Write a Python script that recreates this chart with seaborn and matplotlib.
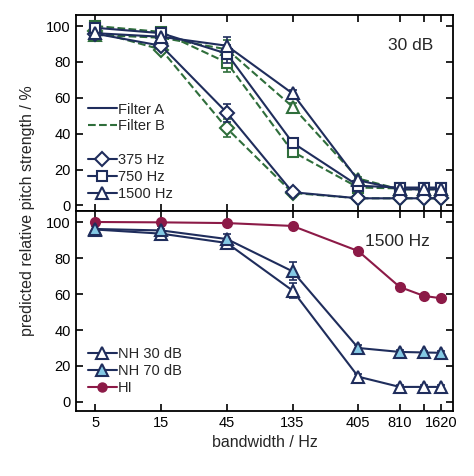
import matplotlib
matplotlib.use('Agg')
import matplotlib.pyplot as plt
from matplotlib.lines import Line2D
from matplotlib.ticker import FixedLocator, NullLocator
import pandas as pd
import seaborn as sns

bandwidth = [5, 15, 45, 135, 405, 810, 1215, 1620]
tick_labels = ['5', '15', '45', '135', '405', '810', '', '1620']

# top panel: 30 dB, filter A / filter B
f375_a = [95.7, 89.0, 51.7, 7.4, 4.0, 4.0, 4.0, 4.0]
f375_b = [97.0, 86.9, 43.0, 7.0, 4.0, 4.0, 4.0, 4.0]
f750_a = [99.0, 96.0, 84.6, 35.0, 11.0, 10.0, 10.0, 10.0]
f750_b = [100.0, 96.7, 79.6, 30.0, 10.0, 9.5, 9.5, 9.5]
f1500_a = [96.0, 94.0, 89.0, 62.4, 14.0, 9.0, 9.0, 9.0]
f1500_b = [95.0, 93.5, 87.0, 55.0, 15.0, 9.0, 9.0, 9.0]
err_top = [2.0, 2.0, 5.0, 2.0, 1.0, 1.0, 1.0, 1.0]

# bottom panel: 1500 Hz
nh30 = [96.0, 93.7, 88.5, 62.0, 14.0, 8.3, 8.3, 8.3]
nh70 = [96.3, 95.5, 90.7, 72.7, 30.0, 27.8, 27.5, 27.3]
hi = [100.2, 100.0, 99.6, 98.0, 84.0, 64.0, 59.0, 57.7]
err_nh30 = [2.0, 2.5, 2.5, 4.0, 1.5, 1.0, 1.0, 1.0]
err_nh70 = [2.0, 2.5, 3.0, 5.0, 1.5, 1.0, 1.0, 1.0]

navy = '#1f2d5c'
green = '#2f6e3b'
maroon = '#8c1a47'
lightblue = '#84c9e4'

sns.set_style('ticks')
plt.rcParams['font.family'] = ['Liberation Sans', 'DejaVu Sans']
plt.rcParams['font.size'] = 10.5

fig = plt.figure(figsize=(4.74, 4.76), dpi=100)
ax1 = fig.add_axes([0.160, 0.557, 0.796, 0.411])
ax2 = fig.add_axes([0.160, 0.137, 0.796, 0.420])


def draw(ax, y, err, color, marker, face, ls='-', ms=8, z=3):
    df = pd.DataFrame({'bw': bandwidth, 'v': y})
    ax.errorbar(bandwidth, y, yerr=err, fmt='none', ecolor=color,
                elinewidth=1.2, capsize=3, capthick=1.2, zorder=z)
    sns.lineplot(data=df, x='bw', y='v', ax=ax, color=color, linestyle=ls,
                 marker=marker, markersize=ms, markerfacecolor=face,
                 markeredgecolor=color, markeredgewidth=1.5, linewidth=1.5,
                 zorder=z + 0.5)


# filter B drawn first, under filter A
draw(ax1, f375_b, err_top, green, 'D', 'white', '--', 7, 2)
draw(ax1, f750_b, err_top, green, 's', 'white', '--', 7.5, 2)
draw(ax1, f1500_b, err_top, green, '^', 'white', '--', 8.5, 2)
draw(ax1, f375_a, err_top, navy, 'D', 'white', '-', 7, 3)
draw(ax1, f750_a, err_top, navy, 's', 'white', '-', 7.5, 3)
draw(ax1, f1500_a, err_top, navy, '^', 'white', '-', 8.5, 3)

draw(ax2, hi, [0] * 8, maroon, 'o', maroon, '-', 6.5, 3)
draw(ax2, nh30, err_nh30, navy, '^', 'white', '-', 8.5, 3)
draw(ax2, nh70, err_nh70, navy, '^', lightblue, '-', 8.5, 3)

for ax in (ax1, ax2):
    ax.set_xscale('log')
    ax.set_xlim(3.6, 1980)
    ax.xaxis.set_major_locator(FixedLocator(bandwidth))
    ax.xaxis.set_minor_locator(NullLocator())
    ax.set_yticks([0, 20, 40, 60, 80, 100])
    ax.tick_params(direction='in', top=True, right=True, length=5,
                   width=1.2, labelsize=10.5, colors='black')
    for s in ax.spines.values():
        s.set_linewidth(1.3)
        s.set_color('black')
    ax.set_xlabel('')
    ax.set_ylabel('')

ax1.set_ylim(-3, 106)
ax2.set_ylim(-5, 106.4)
ax1.set_xticklabels([])
ax2.set_xticklabels(tick_labels)
ax2.set_xlabel('bandwidth / Hz', fontsize=11.5)
fig.text(0.058, 0.557, 'predicted relative pitch strength / %', rotation=90,
         ha='center', va='center', fontsize=11.5)

ax1.text(0.947, 0.847, '30 dB', transform=ax1.transAxes, ha='right',
         va='center', fontsize=12.5)
ax2.text(0.939, 0.845, '1500 Hz', transform=ax2.transAxes, ha='right',
         va='center', fontsize=12.5)

h_top = [
    Line2D([], [], color=navy, lw=1.5),
    Line2D([], [], color=green, lw=1.5, ls='--'),
    Line2D([], [], color='none'),
    Line2D([], [], color=navy, lw=1.5, marker='D', ms=7, mfc='white', mec=navy, mew=1.5),
    Line2D([], [], color=navy, lw=1.5, marker='s', ms=7.5, mfc='white', mec=navy, mew=1.5),
    Line2D([], [], color=navy, lw=1.5, marker='^', ms=8.5, mfc='white', mec=navy, mew=1.5),
]
l_top = ['Filter A', 'Filter B', '', '375 Hz', '750 Hz', '1500 Hz']
ax1.legend(h_top, l_top, loc='lower left', bbox_to_anchor=(0.0, -0.01),
           frameon=False, handlelength=2.0, handletextpad=0.1,
           labelspacing=0.2, fontsize=10.5, borderpad=0.3)

h_bot = [
    Line2D([], [], color=navy, lw=1.5, marker='^', ms=8.5, mfc='white', mec=navy, mew=1.5),
    Line2D([], [], color=navy, lw=1.5, marker='^', ms=8.5, mfc=lightblue, mec=navy, mew=1.5),
    Line2D([], [], color=maroon, lw=1.5, marker='o', ms=6.5, mfc=maroon, mec=maroon),
]
ax2.legend(h_bot, ['NH 30 dB', 'NH 70 dB', 'HI'], loc='lower left',
           bbox_to_anchor=(0.0, 0.02), frameon=False, handlelength=2.0,
           handletextpad=0.1, labelspacing=0.2, fontsize=10.5, borderpad=0.3)

fig.savefig('out.png', dpi=100)
